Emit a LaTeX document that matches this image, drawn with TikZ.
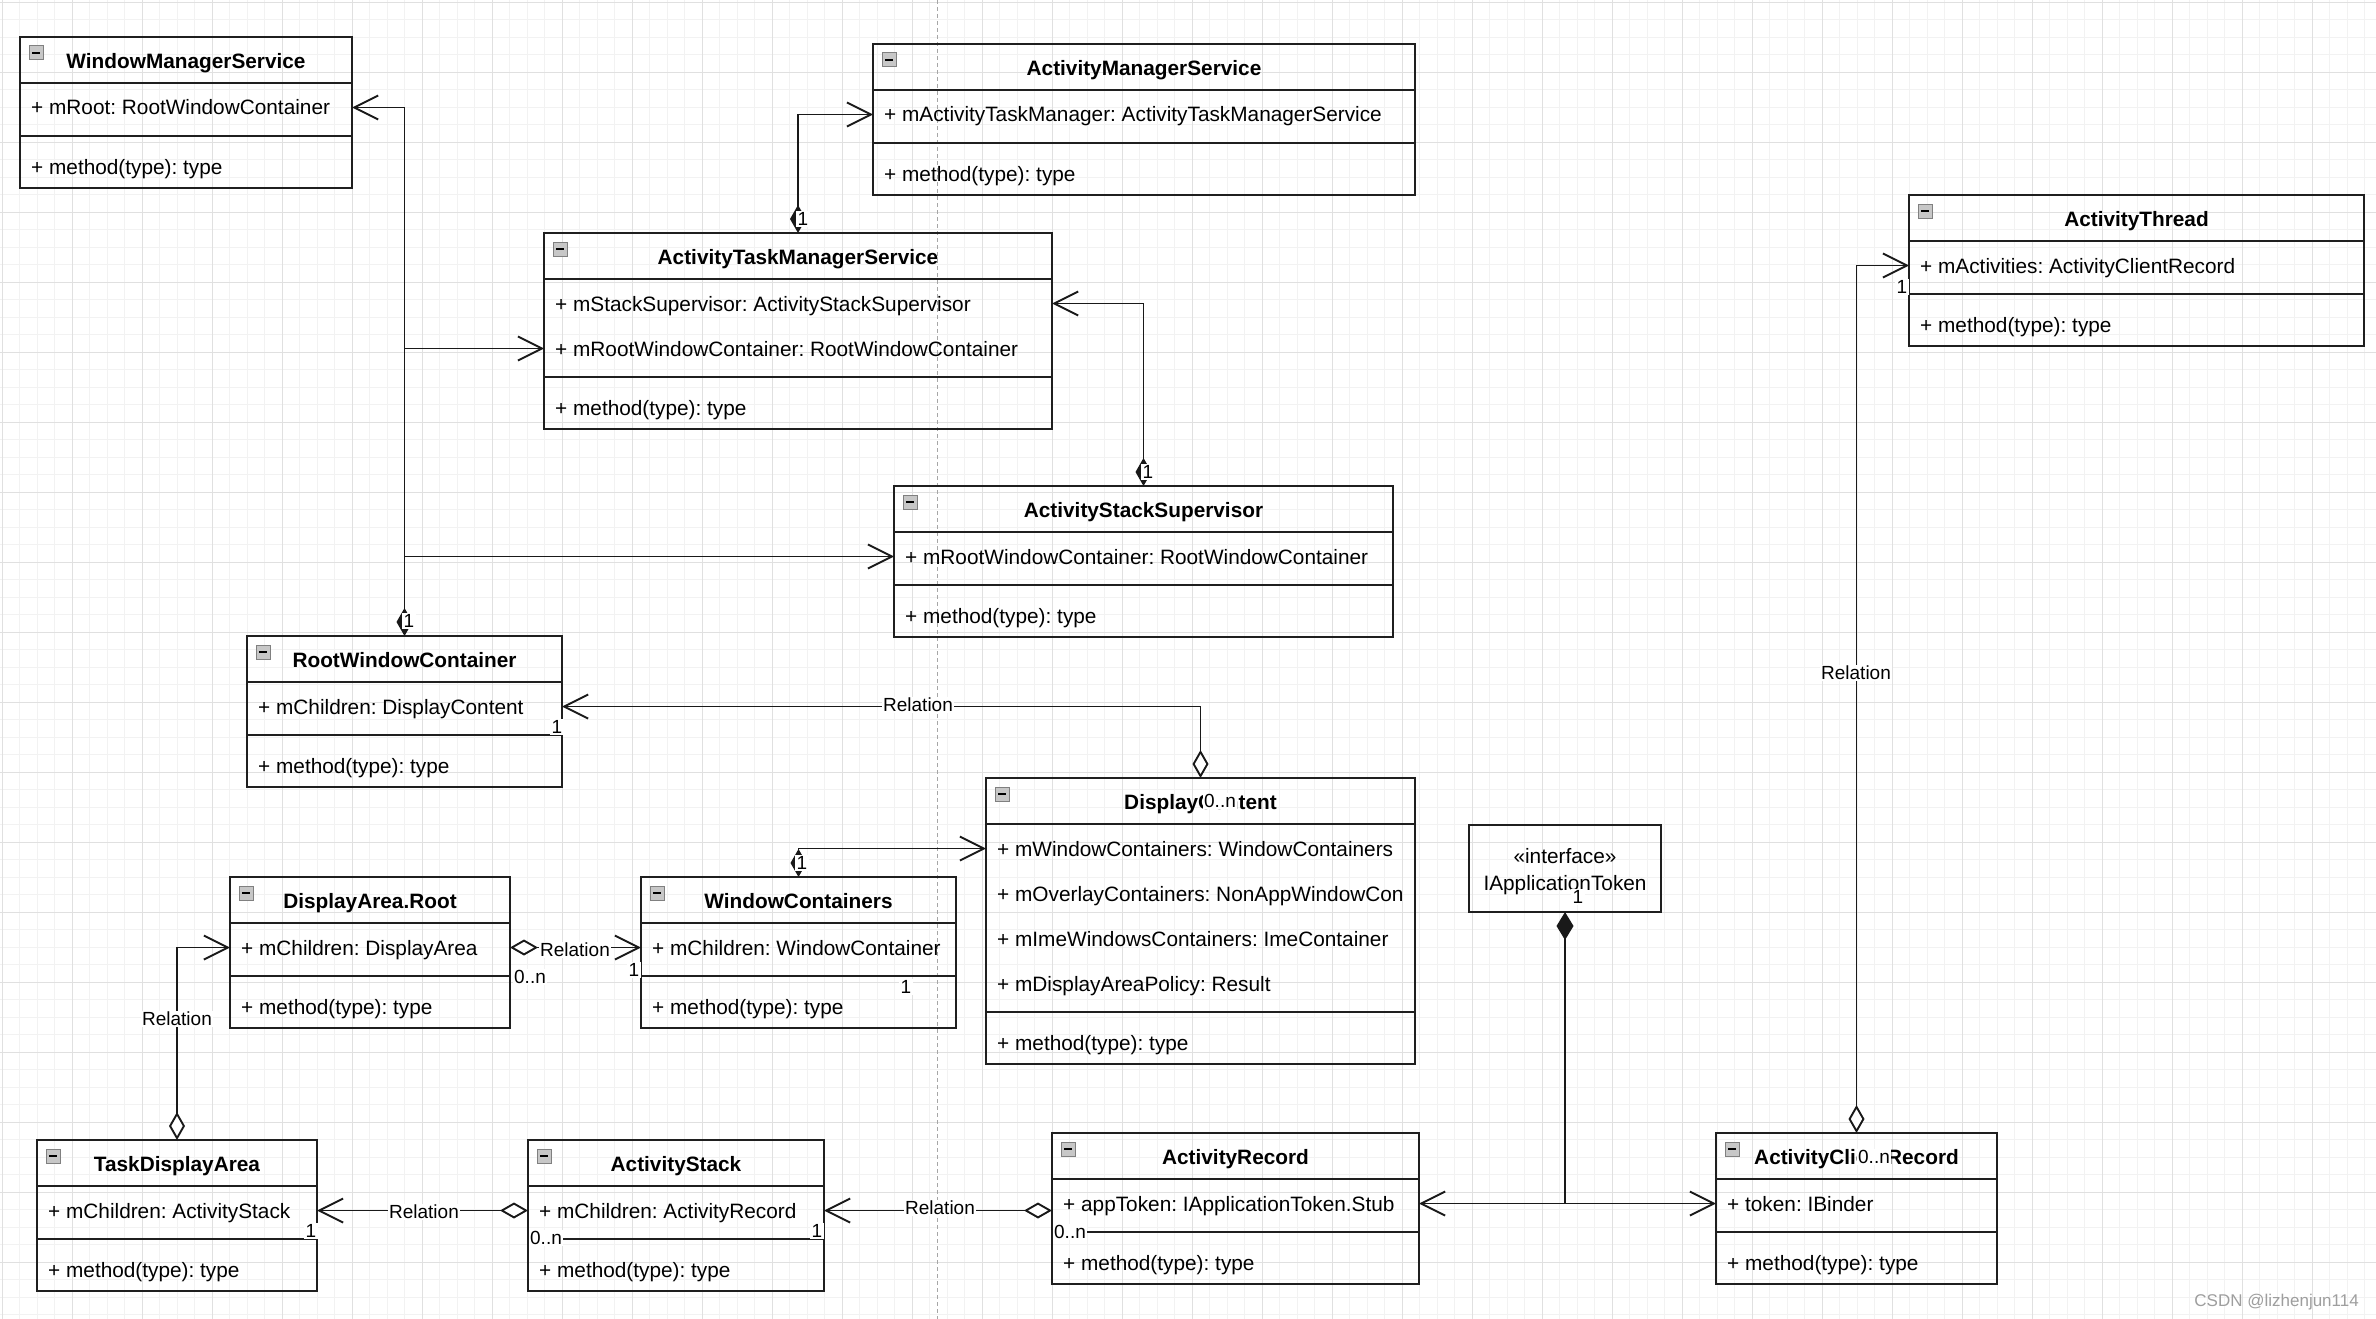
\documentclass[tikz,border=0pt]{standalone}
\usepackage{fontspec}
\setmainfont{Liberation Sans}
\usetikzlibrary{arrows.meta}
\frenchspacing
\newcommand{\umlclass}[7]{%
  \pgfmathsetmacro{\ucD}{99+45*(#5-1)}%
  \node[clsbox, minimum width={#3-#2}, minimum height={\ucD+52}] (#1) at (#2,#4) {};
  \draw[divline] (#2,#4+46) -- (#3,#4+46);
  \draw[divline] (#2,#4+\ucD) -- (#3,#4+\ucD);
  \draw[iconbox] (#2+9,#4+9) rectangle (#2+23,#4+23);
  \draw[iconminus] (#2+12,#4+16) -- (#2+20,#4+16);
  \node[ttl] (#1-t) at ({(#2+#3)/2},#4+31.5) {#6};
  \foreach \uct [count=\uci] in {#7} {\node[attr] (#1-a\uci) at (#2+11,{#4+78+45*(\uci-1)}) {\uct};}
  \node[attr] (#1-m) at (#2+11,#4+\ucD+38) {+ method(type): type};
}
\begin{document}
\begin{tikzpicture}[x=1pt,y=-1pt,
  clsbox/.style={draw=black!88, line width=2pt, anchor=north west, inner sep=0pt, outer sep=0pt},
  divline/.style={draw=black!88, line width=2pt},
  iconbox/.style={draw=black!50, fill=black!22, line width=1pt},
  iconminus/.style={draw=black, line width=2pt},
  ttl/.style={anchor=base, inner sep=0pt, font=\fontsize{20.8}{24}\selectfont\bfseries},
  attr/.style={anchor=base west, inner sep=0pt, text height=15pt, text depth=0pt, font=\fontsize{20.8}{24}\selectfont},
  plain/.style={anchor=base, inner sep=0pt, font=\fontsize{20.8}{24}\selectfont},
  lbl/.style={fill=white, inner sep=1.5pt, font=\fontsize{19}{22}\selectfont},
  conn/.style={draw=black!90, line width=1.9pt},
  oarr/.style={arrows={-{Straight Barb[length=24pt,width=24pt]}}},
  comp/.style={arrows={{Diamond[length=28pt,width=16pt]}-{Straight Barb[length=24pt,width=24pt]}}},
  aggr/.style={arrows={{Diamond[fill=white,length=28pt,width=16pt]}-{Straight Barb[length=24pt,width=24pt]}}},
  gridminor/.style={draw=black!5, line width=1pt},
  gridmajor/.style={draw=black!12, line width=1.3pt}
]
\useasboundingbox (0,0) rectangle (2376,1319);
\fill[white] (0,0) rectangle (2376,1319);
% grid
\foreach \i in {0,...,135} \draw[gridminor] ({2.3+17.5*\i},0) -- ({2.3+17.5*\i},1319);
\foreach \i in {0,...,75} \draw[gridminor] (0,{2.3+17.5*\i}) -- (2376,{2.3+17.5*\i});
\foreach \i in {0,...,33} \draw[gridmajor] ({2.3+70*\i},0) -- ({2.3+70*\i},1319);
\foreach \i in {0,...,18} \draw[gridmajor] (0,{2.3+70*\i}) -- (2376,{2.3+70*\i});
\draw[black!35, line width=1pt, dash pattern=on 4pt off 3pt] (937,0) -- (937,1319);

% classes
\umlclass{wms}{20}{352}{37}{1}{WindowManagerService}{+ mRoot: RootWindowContainer}
\umlclass{ams}{873}{1415}{44}{1}{ActivityManagerService}{+ mActivityTaskManager: ActivityTaskManagerService}
\umlclass{atms}{544}{1052}{233}{2}{ActivityTaskManagerService}{+ mStackSupervisor: ActivityStackSupervisor, + mRootWindowContainer: RootWindowContainer}
\umlclass{at}{1909}{2364}{195}{1}{ActivityThread}{+ mActivities: ActivityClientRecord}
\umlclass{ass}{894}{1393}{486}{1}{ActivityStackSupervisor}{+ mRootWindowContainer: RootWindowContainer}
\umlclass{rwc}{247}{562}{636}{1}{RootWindowContainer}{+ mChildren: DisplayContent}
\umlclass{dc}{986}{1415}{778}{4}{DisplayContent}{+ mWindowContainers: WindowContainers, + mOverlayContainers: NonAppWindowCon, + mImeWindowsContainers: ImeContainer, + mDisplayAreaPolicy: Result}
\umlclass{dar}{230}{510}{877}{1}{DisplayArea.Root}{+ mChildren: DisplayArea}
\umlclass{wc}{641}{956}{877}{1}{WindowContainers}{+ mChildren: WindowContainer}
\umlclass{tda}{37}{317}{1140}{1}{TaskDisplayArea}{+ mChildren: ActivityStack}
\umlclass{as}{528}{824}{1140}{1}{ActivityStack}{+ mChildren: ActivityRecord}
\umlclass{ar}{1052}{1419}{1133}{1}{ActivityRecord}{+ appToken: IApplicationToken.Stub}
\umlclass{acr}{1716}{1997}{1133}{1}{ActivityClientRecord}{+ token: IBinder}

% interface
\node[clsbox, minimum width=192, minimum height=87] (iat) at (1469,825) {};
\node[plain] (iat-s) at (1565,863) {«interface»};
\node[plain] (iat-n) at (1565,890) {IApplicationToken};

% connectors
\draw[conn, comp] (rwc.north) |- (wms-a1 -| wms.east);
\draw[conn, oarr] (rwc.north |- atms-a2) -- (atms-a2 -| atms.west);
\draw[conn, oarr] (rwc.north |- ass-a1) -- (ass-a1 -| ass.west);
\draw[conn, comp] (atms.north) |- (ams-a1 -| ams.west);
\draw[conn, comp] (ass.north) |- (atms-a1 -| atms.east);
\draw[conn, aggr] (dc.north) |- (rwc-a1 -| rwc.east);
\draw[conn, comp] (wc.north) |- (dc-a1 -| dc.west);
\draw[conn, aggr] (dar-a1 -| dar.east) -- (dar-a1 -| wc.west);
\draw[conn, aggr] (tda.north) |- (dar-a1 -| dar.west);
\draw[conn, aggr] (as-a1 -| as.west) -- (as-a1 -| tda.east);
\draw[conn, aggr] (as-a1 -| ar.west) -- (as-a1 -| as.east);
\draw[conn, arrows={{Diamond[length=28pt,width=17pt]}-}] (iat.south) -- (iat.south |- ar-a1);
\draw[conn, oarr] (iat.south |- ar-a1) -- (ar-a1 -| ar.east);
\draw[conn, oarr] (iat.south |- ar-a1) -- (ar-a1 -| acr.west);
\draw[conn, aggr] (acr.north) |- (at-a1 -| at.west);

% labels
\node[lbl] (l1) at (409,621) {1};
\node[lbl] (l2) at (803,219) {1};
\node[lbl] (l3) at (1148,472) {1};
\node[lbl] (l4) at (802,863) {1};
\node[lbl] (l5) at (918,705) {Relation};
\node[lbl] (l6) at (557,727) {1};
\node[lbl] (l7) at (1220,801) {0..n};
\node[lbl] (l8) at (575,950) {Relation};
\node[lbl] (l9) at (530,977) {0..n};
\node[lbl] (l10) at (634,970) {1};
\node[lbl] (l11) at (906,987) {1};
\node[lbl] (l12) at (177,1019) {Relation};
\node[lbl] (l13) at (424,1212) {Relation};
\node[lbl] (l14) at (311,1231) {1};
\node[lbl] (l15) at (546,1238) {0..n};
\node[lbl] (l16) at (940,1208) {Relation};
\node[lbl] (l17) at (817,1231) {1};
\node[lbl] (l18) at (1070,1232) {0..n};
\node[lbl] (l19) at (1578,897) {1};
\node[lbl] (l20) at (1902,287) {1};
\node[lbl] (l21) at (1874,1157) {0..n};
\node[lbl] (l22) at (1856,673) {Relation};

\node[anchor=base east, inner sep=0pt, text=black!38, font=\fontsize{17}{20}\selectfont] (wm) at (2359,1306) {CSDN @lizhenjun114};
\end{tikzpicture}
\end{document}
